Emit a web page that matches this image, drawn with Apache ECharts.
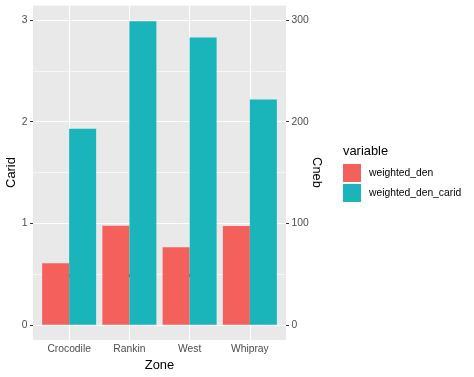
<!DOCTYPE html>
<html>
<head>
<meta charset="utf-8">
<script src="https://cdn.jsdelivr.net/npm/echarts@6/dist/echarts.min.js"></script>
<style>
html, body { margin: 0; padding: 0; background: #fff; }
#chart { width: 474px; height: 377px; }
</style>
</head>
<body>
<div id="chart"></div>
<script>
var zones = ['Crocodile', 'Rankin', 'West', 'Whipray'];
var zone_pos = [1, 2, 3, 4];
var weighted_den = [0.607, 0.976, 0.764, 0.973];        // left axis, Carid
var weighted_den_carid = [193, 299, 283, 222];          // right axis, Cneb
var left_ticks = [0, 1, 2, 3];
var right_ticks = [0, 100, 200, 300];

var font = 'Liberation Sans, Arial, Helvetica, sans-serif';
var red = '#F4605B';
var teal = '#19B5BA';

function pairs(xs, ys) {
	var out = [];
	for (var i = 0; i < xs.length; i++) out.push([xs[i], ys[i]]);
	return out;
}

var chart = echarts.init(document.getElementById('chart'));
var option = {
	animation: false,
	backgroundColor: '#fff',
	textStyle: { fontFamily: font },
	title: {
		text: 'variable',
		left: 343,
		top: 145,
		padding: 0,
		textStyle: { fontSize: 12.9, fontWeight: 'normal', color: '#000', fontFamily: font }
	},
	legend: {
		orient: 'vertical',
		left: 343,
		top: 164,
		padding: 0,
		itemWidth: 18,
		itemHeight: 18,
		itemGap: 2,
		icon: 'rect',
		textStyle: { fontSize: 10.3, color: '#000', fontFamily: font, padding: [0, 0, 0, 3] },
		data: ['weighted_den', 'weighted_den_carid']
	},
	grid: {
		left: 33,
		right: 188,
		top: 5,
		bottom: 37,
		outerBoundsMode: 'none',
		containLabel: false,
		show: true,
		backgroundColor: '#E9E9E9',
		borderWidth: 0
	},
	xAxis: {
		type: 'value',
		min: 0.4,
		max: 4.6,
		minInterval: 1,
		maxInterval: 1,
		name: 'Zone',
		nameLocation: 'middle',
		nameGap: 17,
		nameTextStyle: { fontSize: 12.9, color: '#000', fontFamily: font },
		axisLine: { show: false },
		axisTick: { show: true, length: 3, customValues: zone_pos, lineStyle: { color: '#333', width: 1 } },
		axisLabel: {
			customValues: zone_pos,
			margin: 4,
			fontSize: 10.3,
			color: '#4D4D4D',
			formatter: function (v) {
				var i = zone_pos.indexOf(v);
				return i >= 0 ? zones[i] : '';
			}
		},
		splitLine: { show: true, lineStyle: { color: '#fff', width: 1.1 } }
	},
	yAxis: [
		{
			// helper axis, shifted by half a unit: its lines land on 0.5, 1.5, 2.5 (minor grid)
			type: 'value',
			position: 'left',
			min: -0.65,
			max: 2.65,
			minInterval: 1,
			maxInterval: 1,
			axisLine: { show: false },
			axisTick: { show: false },
			axisLabel: { show: false },
			splitLine: { show: true, lineStyle: { color: '#fff', width: 0.6 } }
		},
		{
			type: 'value',
			position: 'left',
			min: -0.15,
			max: 3.15,
			minInterval: 1,
			maxInterval: 1,
			name: 'Carid',
			nameLocation: 'middle',
			nameGap: 15,
			nameMoveOverlap: false,
			nameTextStyle: { fontSize: 12.9, color: '#000', fontFamily: font },
			axisLine: { show: false },
			axisTick: { show: true, length: 3, customValues: left_ticks, lineStyle: { color: '#333', width: 1 } },
			axisLabel: {
				customValues: left_ticks,
				margin: 5.5,
				fontSize: 10.3,
				color: '#4D4D4D',
				formatter: function (v) { return left_ticks.indexOf(v) >= 0 ? String(v) : ''; }
			},
			splitLine: { show: true, lineStyle: { color: '#fff', width: 1.1 } }
		},
		{
			type: 'value',
			position: 'right',
			min: -15,
			max: 315,
			minInterval: 100,
			maxInterval: 100,
			name: 'Cneb',
			nameLocation: 'middle',
			nameGap: 24,
			nameMoveOverlap: false,
			nameRotate: -90,
			nameTextStyle: { fontSize: 12.9, color: '#000', fontFamily: font },
			axisLine: { show: false },
			axisTick: { show: true, length: 3, customValues: right_ticks, lineStyle: { color: '#333', width: 1 } },
			axisLabel: {
				customValues: right_ticks,
				margin: 5.5,
				fontSize: 10.3,
				color: '#4D4D4D',
				formatter: function (v) { return right_ticks.indexOf(v) >= 0 ? String(v) : ''; }
			},
			splitLine: { show: false }
		}
	],
	series: [
		{
			name: 'weighted_den',
			type: 'bar',
			yAxisIndex: 1,
			barWidth: 27,
			barGap: '0%',
			itemStyle: { color: red },
			data: pairs(zone_pos, weighted_den)
		},
		{
			name: 'weighted_den_carid',
			type: 'bar',
			yAxisIndex: 2,
			barWidth: 27,
			barGap: '0%',
			itemStyle: { color: teal },
			data: pairs(zone_pos, weighted_den_carid)
		}
	]
};
chart.setOption(option);
</script>
</body>
</html>
